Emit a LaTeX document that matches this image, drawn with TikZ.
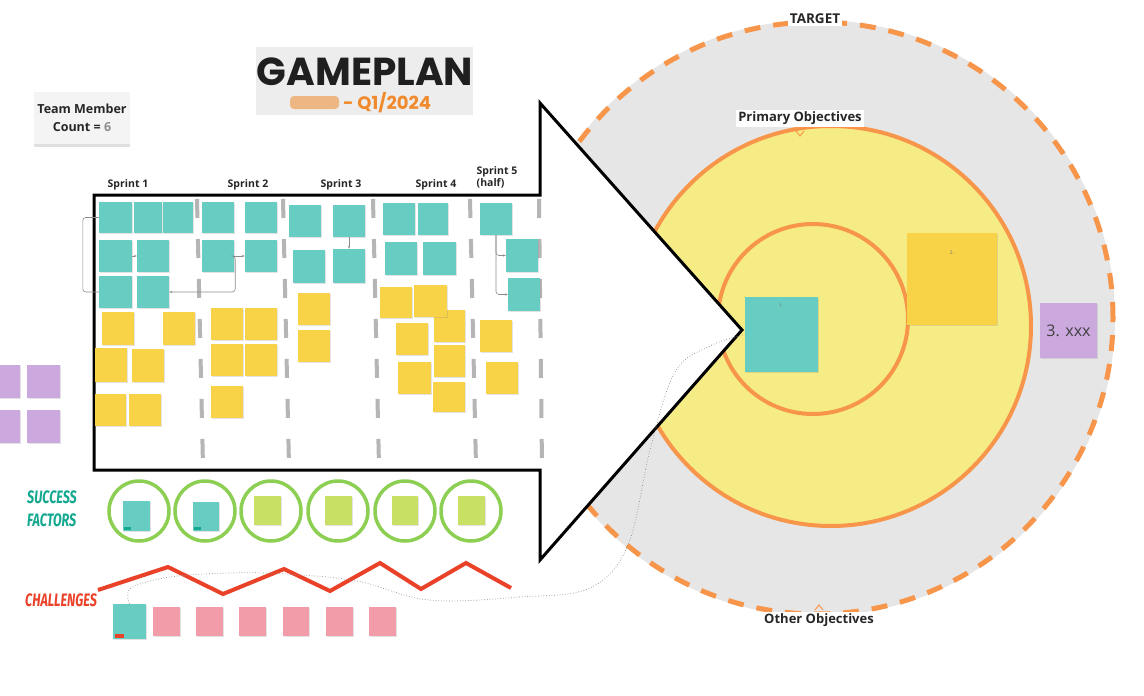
\documentclass[tikz,border=0pt]{standalone}
\usepackage{fontspec}
\setmainfont{Open Sans}
\newfontfamily\titlefont{Poppins}
\newfontfamily\handfont{Fira Sans}
\usetikzlibrary{shadows,arrows.meta}
\definecolor{tgrey}{HTML}{E6E6E6}
\definecolor{tyel}{HTML}{F6EC85}
\definecolor{tor}{HTML}{F7964A}
\definecolor{stTeal}{HTML}{67CDC2}
\definecolor{stYel}{HTML}{F8D347}
\definecolor{stLime}{HTML}{C8E165}
\definecolor{stPink}{HTML}{F29CAA}
\definecolor{stPurp}{HTML}{CBA8DD}
\definecolor{ringG}{HTML}{8DCF52}
\definecolor{sfTeal}{HTML}{13A88F}
\definecolor{chRed}{HTML}{EA4129}
\definecolor{sepG}{HTML}{B5B5B5}
\definecolor{gpGrey}{HTML}{EDEDED}
\definecolor{qOr}{HTML}{F08A2C}
\newcommand\mkstk[6]{\node[sticky, fill=#2, minimum width={(#5)-(#3)}, minimum height={(#6)-(#4)}] (#1) at ({((#3)+(#5))/2},{((#4)+(#6))/2}) {};}
\begin{document}
\begin{tikzpicture}[x=1pt,y=-1pt,
  sticky/.style={rectangle, draw=none, inner sep=0pt, drop shadow={opacity=0.22, shadow xshift=0.6pt, shadow yshift=-1.4pt}},
  lbl/.style={font=\bfseries\fontsize{10.5}{12}\selectfont, text=black!85, inner sep=1pt},
  tlbl/.style={font=\bfseries\fontsize{13}{15}\selectfont, text=black!85, fill=white, inner sep=2pt},
  sep/.style={draw=sepG, line width=4pt, dash pattern=on 19pt off 21pt},
  conn/.style={draw=black!45, line width=0.6pt, rounded corners=3pt},
  ring/.style={circle, draw=ringG, line width=3.5pt, minimum size=60pt, inner sep=0pt},
  hand/.style={font=\handfont\bfseries\itshape\fontsize{18}{18}\selectfont, inner sep=0pt},
  chev/.style={draw=tor, line width=1pt}]
\useasboundingbox (0,0) rectangle (1144,696);
\fill[white] (0,0) rectangle (1144,696);

% ---------- target ----------
\coordinate (tc) at (817,318);
\fill[tgrey] (tc) circle[radius=298pt];
\draw[tor, line width=5pt, dash pattern=on 16pt off 13pt] (tc) circle[radius=296pt];
\draw[tor, fill=tyel, line width=4pt] (831,326) circle[radius=200pt];
\draw[tor, line width=4pt] (813,319) circle[radius=95pt];

% ---------- big arrow ----------
\draw[line width=3pt, fill=white, line join=miter] (94,195) -- (540,195) -- (540,103) -- (742,330) -- (540,560) -- (540,470) -- (94,470) -- cycle;

% separators
\foreach \xt/\xb in {197/203, 283/289, 373/379, 470/476, 539/542}
  \draw[sep] (\xt,199) -- (\xb,466);

% ---------- labels ----------
\node[tlbl, font=\bfseries\fontsize{13.5}{15}\selectfont] (target) at (815,19) {TARGET};
\node[tlbl] (prim) at (800,118) {Primary Objectives};
\draw[chev] (796,131) -- (800,136) -- (804,131);
\node[tlbl] (other) at (819,620) {Other Objectives};
\draw[chev] (815,610) -- (819,605) -- (823,610);

\node[lbl] (sp1) at (128,185) {Sprint 1};
\node[lbl] (sp2) at (248,185) {Sprint 2};
\node[lbl] (sp3) at (341,185) {Sprint 3};
\node[lbl] (sp4) at (436,185) {Sprint 4};
\node[lbl, align=left] (sp5) at (497,177) {Sprint 5\\(half)};

% team box
\node[fill=gpGrey!60, minimum width=93pt, minimum height=52pt, align=center,
  font=\bfseries\fontsize{12.5}{18}\selectfont, text=black!85,
  drop shadow={opacity=0.25, shadow xshift=0pt, shadow yshift=-3pt}] (team) at (82,118)
  {Team Member\\Count = {\color{black!45}6}};

% gameplan
\node[fill=gpGrey, minimum width=217pt, minimum height=68pt, inner sep=0pt] (gp) at (364.5,81) {};
\node[font=\titlefont\bfseries\fontsize{39}{39}\selectfont, text=black!88, inner sep=0pt] (gptitle) at (365,72) {GAMEPLAN};
\fill[qOr, opacity=0.55, rounded corners=4pt] (290,96) rectangle (339,109);
\node[font=\titlefont\bfseries\fontsize{18}{18}\selectfont, text=qOr, inner sep=0pt, anchor=west] (gpq) at (343,103) {- Q1/2024};

% ---------- board stickies ----------
\foreach \n/\xa/\ya/\xb/\yb in {
  a1/99/202/132/233, a2/134/202/162/233, a3/163/202/193/233,
  a4/99/240/132/272, a5/137/240/169/272, a6/99/276/132/308, a7/137/276/169/308,
  b1/202/202/234/233, b2/245/202/277/233, b3/202/240/234/272, b4/245/240/277/272,
  c1/289/205/321/237, c2/333/205/365/237, c3/293/250/325/283, c4/333/249/365/283,
  d1/383/203/415/235, d2/418/203/448/235, d3/385/242/417/275, d4/423/242/456/275,
  e1/480/203/512/235, e2/506/239/538/272, e3/508/278/540/311}
  {\mkstk{\n}{stTeal}{\xa}{\ya}{\xb}{\yb}}

\foreach \n/\xa/\ya/\xb/\yb in {
  y1/102/312/134/345, y2/163/312/195/345, y3/95/348/127/382, y4/132/349/164/382,
  y5/95/394/126/426, y6/129/394/161/426,
  y7/211/308/243/340, y8/245/308/277/340, y9/211/344/243/376, y10/245/344/277/376,
  y11/211/386/243/418, y12/298/293/330/325, y13/298/330/330/362,
  y17/434/310/465/342, y14/380/287/412/318, y15/414/285/447/317, y16/396/323/428/355,
  y18/434/345/465/377, y19/398/362/431/394, y20/433/382/465/412,
  y21/480/320/512/352, y22/486/362/518/394}
  {\mkstk{\n}{stYel}{\xa}{\ya}{\xb}{\yb}}

% board connectors
\draw[conn] (a1.west) -- ++(-16,0) |- (a6.west);
\draw[conn, -{Stealth[length=3pt]}] (a4.east) -- (a5.west);
\draw[conn, -{Stealth[length=3pt]}] (b3.east) -- (b4.west);
\draw[conn, -{Stealth[length=3pt]}] (b3.east) -- ++(1,0) |- (a7.east);
\draw[conn, -{Stealth[length=3pt]}] (c2.south) -- (c4.north);
\draw[conn, -{Stealth[length=3pt]}] (e1.south) |- (e2.west);
\draw[conn, -{Stealth[length=3pt]}] (e1.south) |- (e3.west);

% purple stickies left
\foreach \n/\xa/\ya/\xb/\yb in {p1/-12/365/20/398, p2/27/365/60/398, p3/-12/410/20/443, p4/27/410/60/443}
  {\mkstk{\n}{stPurp}{\xa}{\ya}{\xb}{\yb}}

% ---------- success factors ----------
\node[hand, text=sfTeal, align=left] (sflbl) at (52,509) {\scalebox{0.7}[1]{SUCCESS}\\[5pt]\scalebox{0.7}[1]{FACTORS}};
\foreach \i/\x in {1/139,2/205,3/271,4/338,5/405,6/471}
  \node[ring] (sf\i) at (\x,511) {};
\mkstk{sft1}{stTeal}{123}{501}{150}{531}
\mkstk{sft2}{stTeal}{193}{502}{219}{531}
\fill[sfTeal] (124,527) rectangle (131,530);
\fill[sfTeal] (194,527) rectangle (201,530);
\foreach \n/\xa/\xb in {sfl3/254/281, sfl4/325/352, sfl5/392/418, sfl6/458/485}
  {\mkstk{\n}{stLime}{\xa}{496}{\xb}{525}}

% ---------- challenges ----------
\node[hand, text=chRed] (chlbl) at (61,600) {\scalebox{0.7}[1]{CHALLENGES}};
\draw[chRed, line width=4pt, line join=miter] (98,590) -- (168,567) -- (223,594) -- (284,569) -- (330,591) -- (380,563) -- (421,589) -- (466,563) -- (511,588);
\mkstk{ct}{stTeal}{113}{604}{146}{639}
\fill[chRed] (115,634) rectangle (124,638);
\foreach \n/\xa/\xb in {ch1/153/180, ch2/196/223, ch3/239/266, ch4/283/309, ch5/326/353, ch6/369/396}
  {\mkstk{\n}{stPink}{\xa}{607}{\xb}{636}}

% ---------- target stickies ----------
\mkstk{k1}{stTeal}{745}{297}{818}{372}
\node[font=\fontsize{5}{6}\selectfont, text=black!55] (k1t) at (781,306) {1.};
\mkstk{k2}{stYel}{907}{233}{997}{325}
\node[font=\fontsize{5}{6}\selectfont, text=black!55] (k2t) at (952,253) {2.};
\node[sticky, fill=stPurp, minimum width=57pt, minimum height=55pt, font=\fontsize{16}{18}\selectfont, text=black!75] (k3) at (1068.5,330.5) {3. xxx};

% dotted link
\draw[black!45, line width=0.7pt, dotted] plot[smooth, tension=0.6] coordinates {(ct.north) (131,588) (170,577) (230,573) (286,574) (357,581) (429,600) (520,597) (590,588) (628,545) (650,450) (675,372) (710,346) (k1.west)};
\end{tikzpicture}
\end{document}
